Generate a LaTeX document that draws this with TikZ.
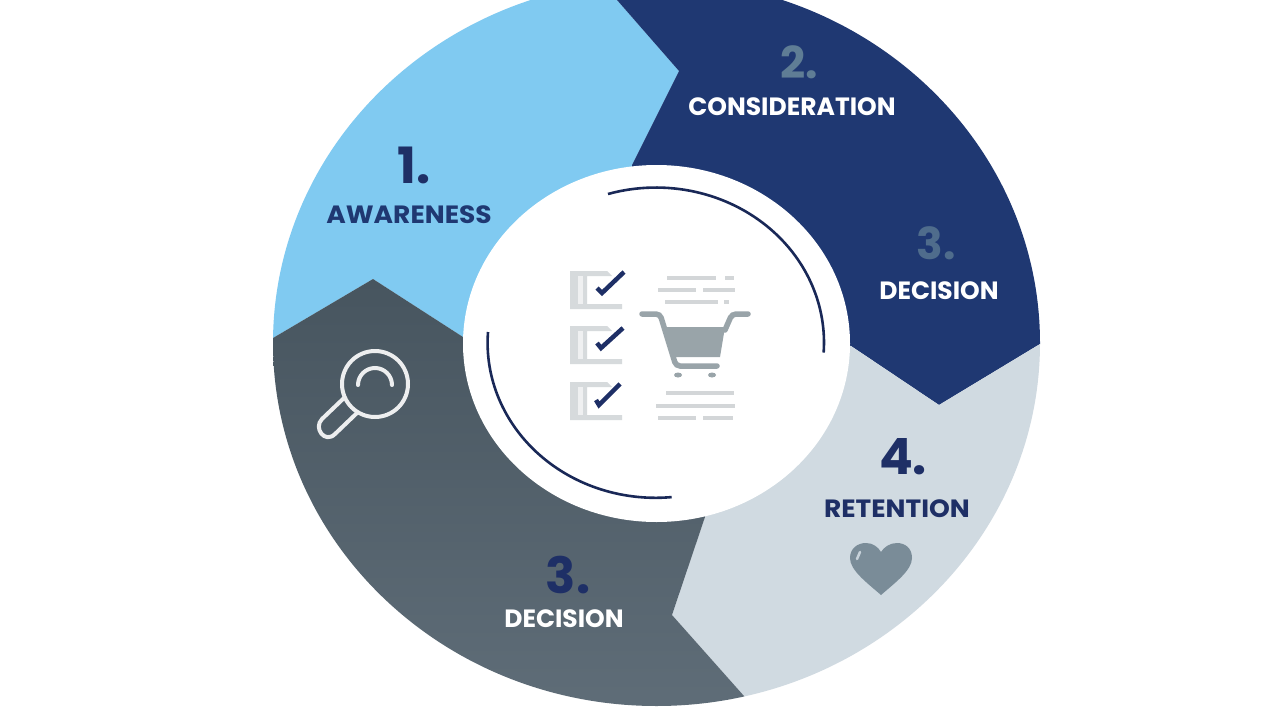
\documentclass[tikz,border=0pt]{standalone}
\usepackage{fontspec}
\setmainfont{Poppins}
\usepackage{xcolor}
\usepackage{graphicx}
\usetikzlibrary{positioning}
\definecolor{skyblue}{HTML}{80CAF1}
\definecolor{navyblue}{HTML}{1F3872}
\definecolor{palegrey}{HTML}{D0DAE1}
\definecolor{slatetop}{HTML}{47555F}
\definecolor{slatebot}{HTML}{616F7A}
\definecolor{inkblue}{HTML}{1E2F66}
\definecolor{cartgrey}{HTML}{99A4A9}
\definecolor{boxgrey}{HTML}{D6DADC}
\definecolor{linegrey}{HTML}{D3D6D8}
\definecolor{heartgrey}{HTML}{7A8C98}
\definecolor{numgrey}{HTML}{5F7D95}

\begin{document}
\begin{tikzpicture}[
      x = 1pt, y = -1pt,
      title/.style = {font=\fontsize{25}{25}\selectfont\bfseries, inner sep=0pt},
      number/.style = {font=\fontsize{50}{50}\selectfont\bfseries, inner sep=0pt},
      smallnumber/.style = {font=\fontsize{44}{44}\selectfont\bfseries, inner sep=0pt},
      textline/.style = {linegrey, line width=4.5pt},
      tick/.style = {inkblue, line width=4.5pt},
      ringarc/.style = {inkblue!85!black, line width=2.6pt},
      loupe/.style = {white!90!slatetop, line width=4pt},
      cartbar/.style = {cartgrey, line width=5.5pt, line cap=round, rounded corners=4pt}
    ]
    \useasboundingbox (0,0) rectangle (1280,720);
    \clip (0,0) rectangle (1280,720);
    \fill[white] (0,0) rectangle (1280,720);

    \begin{scope}
      \clip (656.5,343) ellipse [x radius=383.5, y radius=363];
      \fill[skyblue] (591,-30) -- (617,0) -- (679,71) -- (632,165) -- (656,343) -- (463,337)
        -- (373,279) -- (273,338) -- (200,381) -- (200,-30) -- cycle;
      \fill[navyblue] (591,-30) -- (617,0) -- (679,71) -- (632,165) -- (656,343) -- (851,346)
        -- (939,405) -- (1040,344) -- (1100,308) -- (1100,-30) -- cycle;
      \fill[palegrey] (656,343) -- (851,346) -- (939,405) -- (1040,344) -- (1100,308)
        -- (1100,750) -- (792,750) -- (744,696) -- (672,615) -- (705,517) -- cycle;
      \shade[top color=slatetop, bottom color=slatebot] (656,343) -- (463,337) -- (373,279)
        -- (273,338) -- (200,381) -- (200,750) -- (792,750) -- (744,696) -- (672,615)
        -- (705,517) -- cycle;
    \end{scope}
    \fill[white] (656.5,343.5) ellipse [x radius=193.5, y radius=178.5];

    \draw[ringarc] (608,194) arc [start angle=-106.6, end angle=3.7, x radius=168, y radius=155];
    \draw[ringarc] (488,332) arc [start angle=184, end angle=84.5, x radius=168, y radius=155];

    \node[number, inkblue] (num1) at (414,165) {1.};
    \node[title, navyblue] (lab1) at (409,215) {\scalebox{1.06}[1]{AWARENESS}};
    \node[smallnumber, numgrey] (num2) at (799,62) {2.};
    \node[title, white] (lab2) at (792,107) {CONSIDERATION};
    \node[smallnumber, numgrey!75!navyblue] (num3) at (936,243) {3.};
    \node[title, white] (lab3) at (939,291) {DECISION};
    \node[number, inkblue] (num4) at (903,457) {4.};
    \node[title, inkblue] (lab4) at (897,509) {\scalebox{1.06}[1]{RETENTION}};
    \node[number, inkblue] (num5) at (568,575) {3.};
    \node[title, white] (lab5) at (564,619) {DECISION};

    % magnifier
    \draw[loupe] (375,384) circle (33);
    \draw[loupe, line cap=round] (358,385) arc [start angle=180, end angle=360, x radius=17, y radius=17];
    \draw[loupe, line join=round] (344,398) -- (322,419)
      .. controls (313,428) and (325,444) .. (335,434) -- (358,412);

    % heart
    \fill[heartgrey] (881,595) .. controls (866,582) and (850,570) .. (850,558)
      .. controls (850,548) and (858,543) .. (866,543) .. controls (873,543) and (878,547) .. (881,552)
      .. controls (884,547) and (890,543) .. (897,543) .. controls (905,543) and (912,548) .. (912,558)
      .. controls (912,570) and (896,582) .. (881,595) -- cycle;
    \draw[palegrey!90!heartgrey, line width=2.5pt, line cap=round] (857,559) -- (860,552);

    % check boxes
    \foreach \ypos/\xa/\xb/\ya/\xc/\yc in {271/597/602/288/624/272, 326/597/601/343/623/328, 382/596/599/400/620/384} {
      \fill[boxgrey] (570,\ypos) -- (607,\ypos) -- (612,\ypos+5) -- (587,\ypos+5) -- (587,\ypos+33)
        -- (622,\ypos+33) -- (622,\ypos+38) -- (570,\ypos+38) -- cycle;
      \fill[white!60!boxgrey] (578,\ypos+5) rectangle (583,\ypos+33);
      \draw[tick] (\xa,\ya) -- (\xb,\ya+5) -- (\xc,\yc);
    }

    % cart
    \fill[cartgrey] (664,327) -- (725,327) -- (720,357) -- (672,357) -- cycle;
    \draw[cartbar] (642,314) -- (660,314) -- (676,366) -- (717,366);
    \draw[cartbar] (748,314) -- (732,314) -- (725,330);
    \fill[cartgrey] (678,375) ellipse [x radius=4, y radius=2.5];
    \fill[cartgrey] (712,375) ellipse [x radius=4, y radius=2.5];

    % text lines
    \foreach \xa/\xb/\ylin in {667/716/278, 725/734/278, 658/696/290, 703/735/290, 665/718/302, 724/729/302,
        666/734/393, 656/735/406, 658/696/418, 703/733/418} {
      \draw[textline] (\xa,\ylin) -- (\xb,\ylin);
    }
  \end{tikzpicture}
\end{document}
